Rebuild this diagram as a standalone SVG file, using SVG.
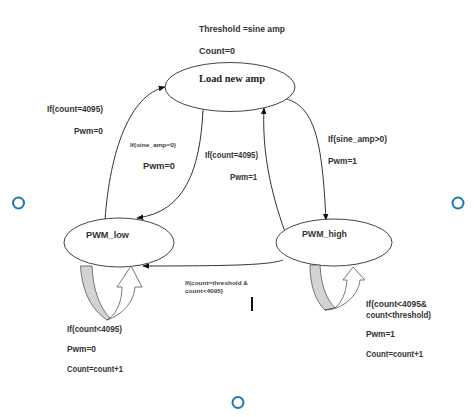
<svg xmlns="http://www.w3.org/2000/svg" width="474" height="417" viewBox="0 0 474 417">
<defs>
<marker id="ah" viewBox="0 0 10 10" refX="9" refY="5" markerWidth="7" markerHeight="7" orient="auto" markerUnits="userSpaceOnUse">
<path d="M0,1 L10,5 L0,9 Z" fill="#111"/>
</marker>
<style>
.node{fill:#fff;stroke:#444;stroke-width:1}
.edge{fill:none;stroke:#333;stroke-width:1;marker-end:url(#ah)}
.t{font-family:"Liberation Sans",Arial,sans-serif;font-size:9px;font-weight:bold;fill:#333}
.s{font-family:"Liberation Sans",Arial,sans-serif;font-size:6px;font-weight:bold;fill:#444}
.n{font-family:"Liberation Serif","Times New Roman",serif;font-size:11px;font-weight:bold;fill:#222}
.gray{fill:#d3d3d3;stroke:#555;stroke-width:0.8}
.white{fill:#fff;stroke:#555;stroke-width:0.8}
.mark{fill:none;stroke:#1f78b4;stroke-width:2}
</style>
</defs>
<rect width="474" height="417" fill="#fff"/>

<g id="connectors">
<path class="edge" d="M105,220 C110,150 130,95 165,87"/>
<path class="edge" d="M203,110 C200,170 185,212 137,218"/>
<path class="edge" d="M285,232 C270,190 262,150 264,108"/>
<path class="edge" d="M283,98 C315,105 322,140 326,220"/>
<path class="edge" d="M283,260 C270,265 230,266 143,266"/>
</g>

<g id="load-new-amp">
<ellipse class="node" cx="230" cy="87" rx="65" ry="24.5"/>
<text class="n" x="199" y="82" textLength="66" lengthAdjust="spacingAndGlyphs">Load new amp</text>
</g>

<g id="pwm-low">
<ellipse class="node" cx="119" cy="242.5" rx="55" ry="24.5"/>
<text class="t" x="86" y="238" textLength="43" lengthAdjust="spacingAndGlyphs">PWM_low</text>
</g>

<g id="pwm-high">
<ellipse class="node" cx="334" cy="242.5" rx="58" ry="23.5"/>
<text class="t" x="302" y="237" textLength="45" lengthAdjust="spacingAndGlyphs">PWM_high</text>
</g>

<g id="loop-low">
<path class="gray" d="M80.5,266 L92,266 C93,290 100,308 110,318 L107,320 C92,310 82,292 80.5,266 Z"/>
<path class="white" d="M107,320 C122,315 134,302 135,287 L142,287 L131,266 L117,287 L122,287 C122,300 118,311 110,318 Z"/>
</g>

<g id="loop-high">
<path class="gray" d="M310,265 L320,265 C321,286 327,300 335,308 L325,310 C316,302 310,286 310,265 Z"/>
<path class="white" d="M325,310 C340,310 358,298 360,280 L365,280 L353,267 L343,280 L347,280 C346,294 341,303 335,308 Z"/>
</g>

<g id="labels">
<text class="t" x="199" y="32" textLength="86" lengthAdjust="spacingAndGlyphs">Threshold =sine amp</text>
<text class="t" x="199" y="54" textLength="36" lengthAdjust="spacingAndGlyphs">Count=0</text>
<text class="t" x="47" y="112" textLength="56" lengthAdjust="spacingAndGlyphs">If(count=4095)</text>
<text class="t" x="74" y="134" textLength="29" lengthAdjust="spacingAndGlyphs">Pwm=0</text>
<text class="s" x="130" y="147" textLength="46" lengthAdjust="spacingAndGlyphs">If(sine_amp=0)</text>
<text class="t" x="143" y="169" textLength="32" lengthAdjust="spacingAndGlyphs">Pwm=0</text>
<text class="t" x="205" y="158" textLength="53" lengthAdjust="spacingAndGlyphs">If(count=4095)</text>
<text class="t" x="230" y="180" textLength="27" lengthAdjust="spacingAndGlyphs">Pwm=1</text>
<text class="t" x="328" y="142" textLength="59" lengthAdjust="spacingAndGlyphs">If(sine_amp&gt;0)</text>
<text class="t" x="328" y="164" textLength="29" lengthAdjust="spacingAndGlyphs">Pwm=1</text>
<text class="t" x="67" y="332" textLength="55" lengthAdjust="spacingAndGlyphs">If(count&lt;4095)</text>
<text class="t" x="67" y="352" textLength="29" lengthAdjust="spacingAndGlyphs">Pwm=0</text>
<text class="t" x="67" y="372" textLength="56" lengthAdjust="spacingAndGlyphs">Count=count+1</text>
<text class="s" x="185" y="285" textLength="63" lengthAdjust="spacingAndGlyphs">If(count=threshold &amp;</text>
<text class="s" x="185" y="293" textLength="38" lengthAdjust="spacingAndGlyphs">count&lt;4095)</text>
<text class="t" x="366" y="307" textLength="61" lengthAdjust="spacingAndGlyphs">If(count&lt;4095&amp;</text>
<text class="t" x="366" y="318" textLength="65" lengthAdjust="spacingAndGlyphs">count&lt;threshold)</text>
<text class="t" x="366" y="337" textLength="29" lengthAdjust="spacingAndGlyphs">Pwm=1</text>
<text class="t" x="366" y="357" textLength="57" lengthAdjust="spacingAndGlyphs">Count=count+1</text>
</g>

<line x1="252" y1="297" x2="252" y2="311" stroke="#111" stroke-width="2"/>

<g id="handles">
<circle class="mark" cx="18.5" cy="203" r="5.5"/>
<circle class="mark" cx="458" cy="203" r="5.5"/>
<circle class="mark" cx="238" cy="402.5" r="5.5"/>
</g>
</svg>
